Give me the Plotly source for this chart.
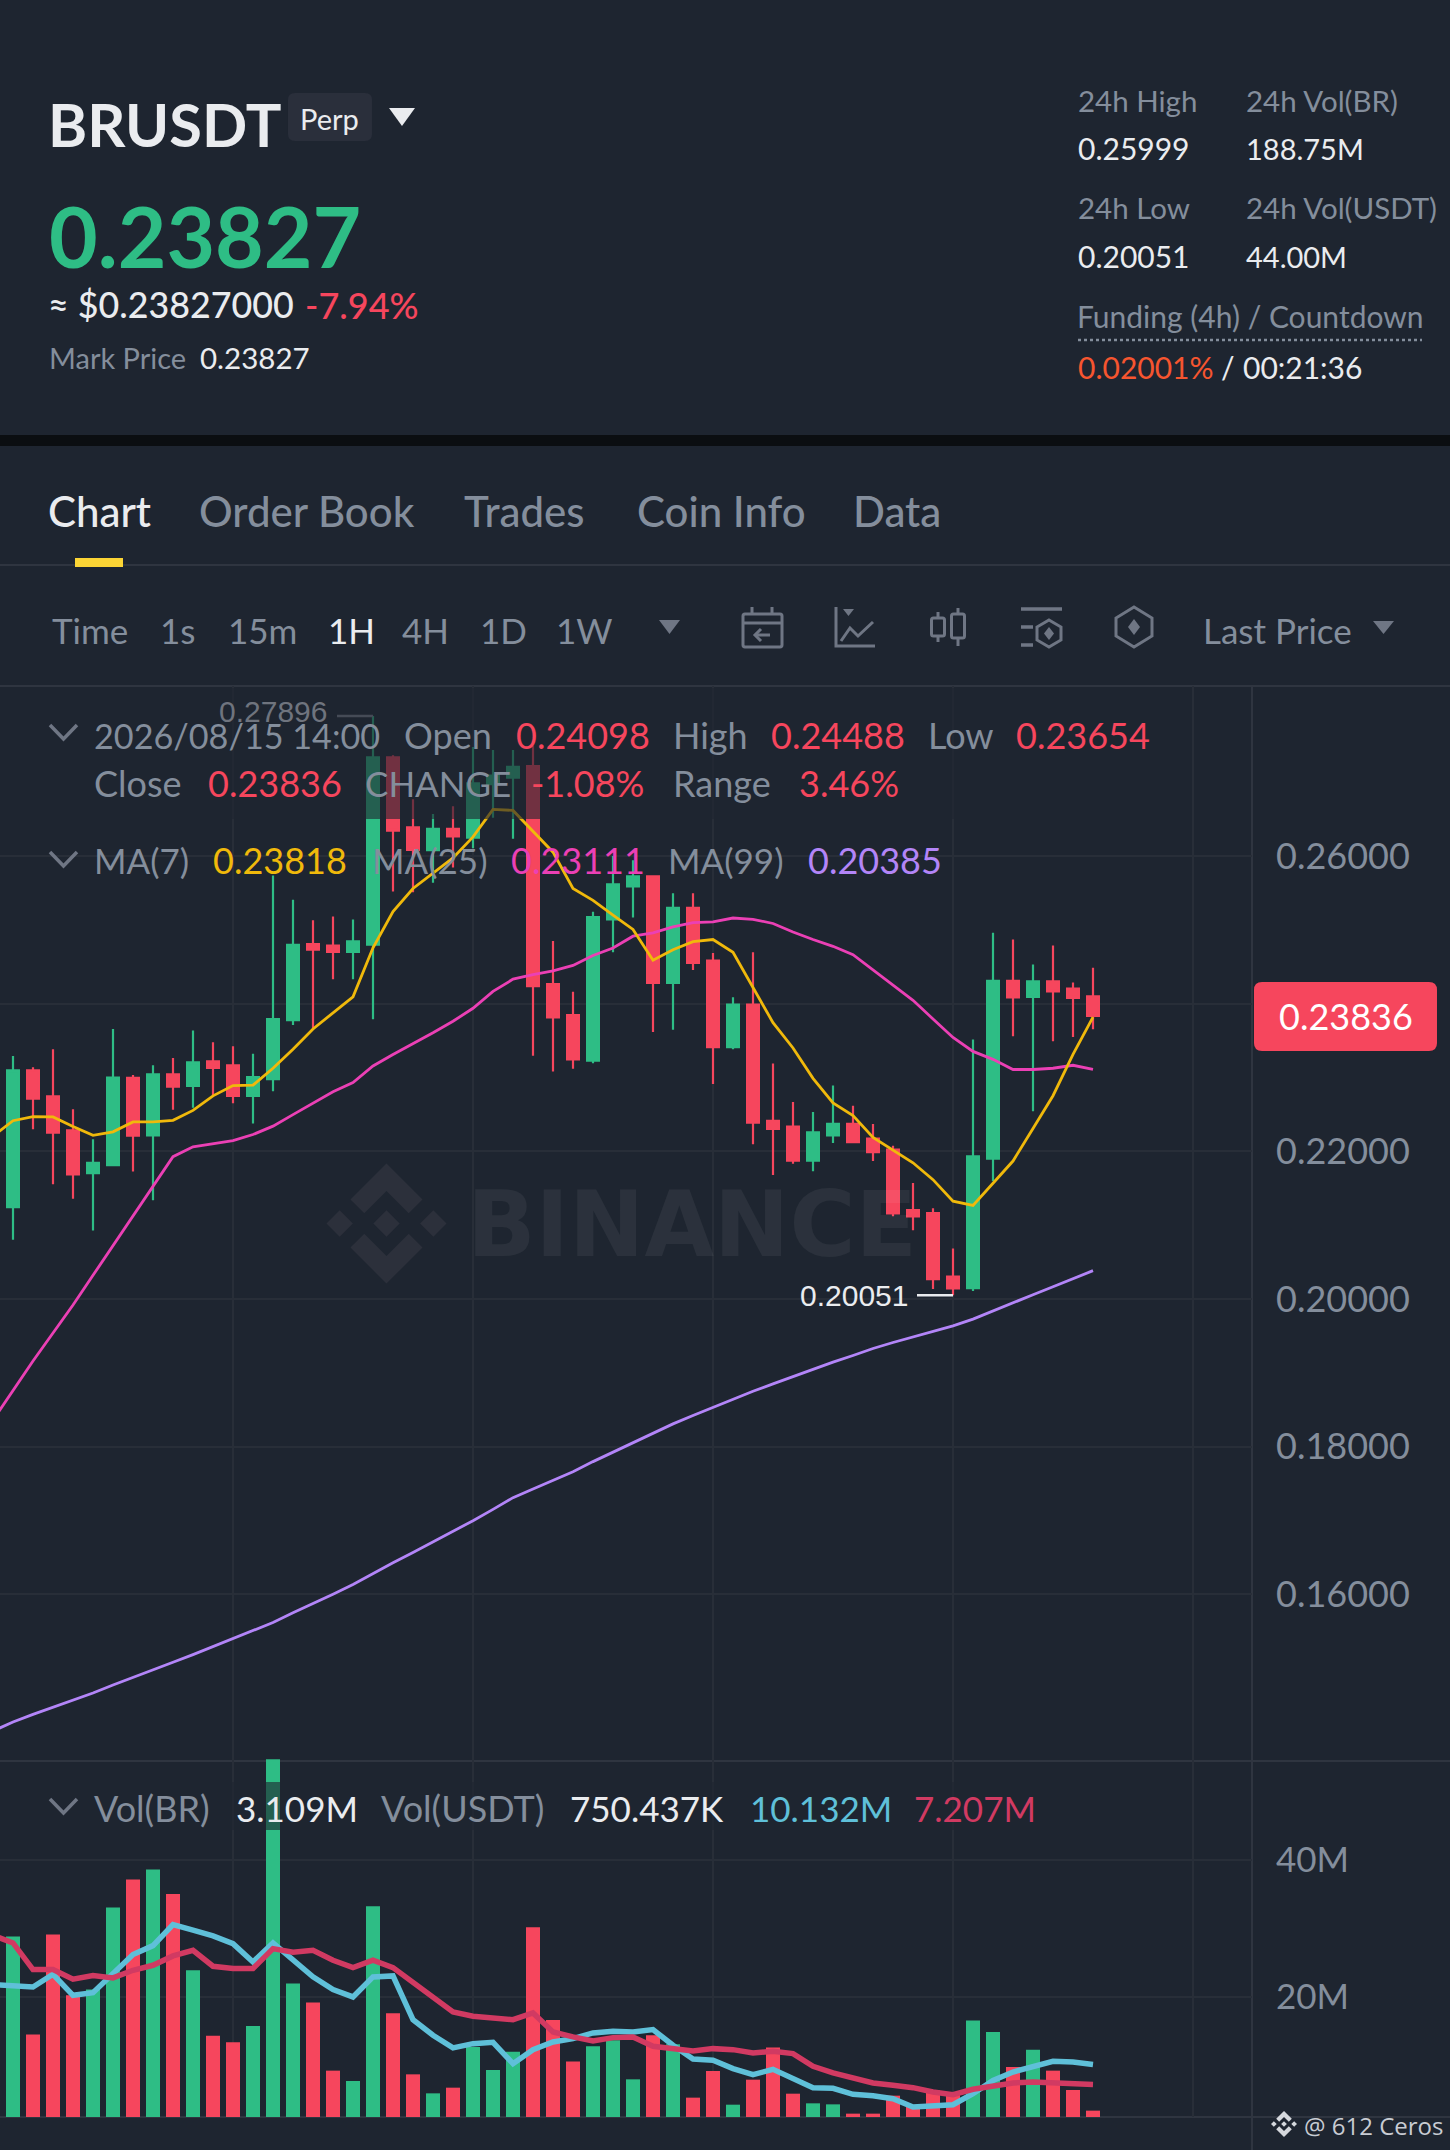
import plotly.graph_objects as go

# ---- data ----
open_ = [.21244,.23099,.22746,.22285,.21705,.21814,.22995,.22218,.23042,.22886,.23218,.23166,.22752,.22979,.23777,
         .24808,.24788,.24700,.24798,.27337,.26389,.26078,.26368,.26249,.26974,.27062,.27218,.24264,.23845,.23228,
         .25143,.25589,.25726,.24280,.25297,.24583,.23412,.23989,.22412,.22337,.21875,.22217,.22372,.22172,.22023,
         .21206,.21166,.20303,.20149,.21903,.24309,.24092,.24303,.24206,.24098]
high = [.23290,.23140,.23384,.22570,.22166,.23658,.23036,.23166,.23264,.23637,.23477,.23425,.23321,.25736,.25409,
        .25130,.25181,.25140,.27896,.27363,.26767,.26570,.26674,.27477,.27435,.27435,.27492,.24850,.24161,.25244,
        .26000,.25943,.25726,.25497,.25497,.24686,.24086,.24697,.23189,.22669,.22532,.22892,.22617,.22372,.22075,
        .21572,.21229,.20686,.23514,.24960,.24869,.24531,.24789,.24286,.24488]
low = [.20803,.22301,.21555,.21358,.20928,.21814,.21726,.21337,.22565,.22591,.22762,.22653,.22378,.22814,.23710,
       .23643,.24332,.24332,.23788,.25518,.25508,.25637,.25845,.26104,.26518,.26233,.23296,.23083,.23119,.23192,
       .24697,.25166,.23617,.23646,.24457,.22914,.23383,.22097,.21680,.21834,.21732,.22114,.22114,.21869,.21120,
       .20932,.20137,.20051,.20109,.21600,.23560,.22543,.23492,.23549,.23654]
close = [.23099,.22715,.22254,.21689,.21845,.23000,.22213,.23042,.22876,.23207,.23130,.22752,.23005,.23793,.24798,
         .24731,.24700,.24845,.27337,.26342,.26083,.26368,.26264,.26984,.27088,.27207,.24238,.23814,.23244,.25171,
         .25617,.25726,.24280,.25297,.24554,.23412,.23989,.22389,.22303,.21875,.22257,.22372,.22126,.21989,.21160,
         .21120,.20269,.20143,.21932,.24309,.24086,.24303,.24166,.24080,.23836]
ma7 = [.22207,.22415,.22472,.22467,.22337,.22218,.22265,.22399,.22399,.22420,.22555,.22752,.22891,.22897,.23125,.23384,
       .23658,.23876,.24093,.24757,.25249,.25560,.25767,.25974,.26259,.26632,.26617,.26337,.26052,.25560,.25400,
       .25200,.25006,.24589,.24731,.24840,.24869,.24697,.24229,.23743,.23400,.22989,.22657,.22486,.22189,.22017,
       .21846,.21617,.21326,.21269,.21566,.21869,.22309,.22754,.23314,.23818]
ma25 = [.18363,.18769,.19162,.19541,.19920,.20322,.20726,.21130,.21518,.21928,.22062,.22099,.22145,.22228,.22342,.22498,
        .22658,.22808,.22933,.23156,.23311,.23456,.23606,.23762,.23938,.24166,.24332,.24394,.24446,.24518,.24653,
        .24754,.24914,.24960,.25040,.25097,.25109,.25160,.25143,.25086,.24971,.24869,.24777,.24663,.24457,.24240,
        .24046,.23794,.23543,.23354,.23246,.23109,.23109,.23126,.23166,.23111]
ma99 = [.14151,.14273,.14377,.14472,.14571,.14666,.14775,.14874,.14983,.15082,.15186,.15295,.15403,.15507,.15620,.15751,
        .15873,.16004,.16135,.16285,.16429,.16569,.16709,.16854,.16999,.17152,.17311,.17428,.17550,.17663,.17799,
        .17925,.18061,.18183,.18310,.18423,.18536,.18649,.18752,.18852,.18951,.19051,.19146,.19236,.19331,.19412,
        .19489,.19562,.19638,.19729,.19842,.19946,.20059,.20167,.20276,.20385]
volume = [28.83,14.49,29.12,20.24,21.07,33.07,37.17,38.63,35.07,23.90,14.34,13.37,15.76,54.78,21.95,19.17,9.22,7.71,
          33.27,17.61,8.68,5.90,6.73,12.68,9.32,12.00,30.20,16.63,10.54,12.78,13.66,7.95,14.39,13.07,5.27,9.17,4.24,
          7.90,12.59,5.85,4.44,4.29,2.93,2.93,5.56,3.90,6.34,5.95,16.54,14.88,9.76,12.29,9.22,6.39,3.37]
vol_ma_fast = [21.80,21.66,21.46,23.32,20.24,20.63,23.32,26.20,27.51,30.59,29.76,28.93,27.80,25.12,27.90,25.37,22.93,
               21.07,20.00,22.93,23.07,16.68,14.39,12.54,13.17,13.37,10.24,12.29,13.41,13.90,14.73,14.98,14.88,15.22,
               12.93,10.93,10.73,9.51,8.63,9.41,8.05,6.73,6.63,5.76,5.56,5.12,3.90,4.00,4.24,5.85,7.80,9.02,9.85,
               10.59,10.49,10.13]
vol_ma_slow = [29.02,27.90,24.00,24.00,22.59,23.12,22.78,23.90,24.63,26.00,26.83,24.49,24.15,24.15,27.07,26.54,26.83,
               25.37,24.29,25.37,24.29,22.20,19.90,17.80,17.17,16.83,16.68,17.66,14.88,14.15,13.56,14.05,14.15,12.78,
               12.34,12.10,12.44,12.29,11.80,12.05,11.71,9.85,8.88,8.20,7.41,7.07,6.73,6.10,5.71,6.49,6.93,7.41,7.56,
               7.41,7.32,7.21]
price_ticks = [0.16, 0.18, 0.20, 0.22, 0.24, 0.26]
volume_ticks = [20, 40]
volume_tick_labels = ["20M", "40M"]
time_ticks = [11, 23, 35, 47, 59]

candle_idx = list(range(len(close)))
ma_idx = list(range(-1, len(close)))

W, H = 1450, 2150
BG = "#1E2530"
GRID = "#282E38"
SEP = "#2F3540"
GREEN = "#2EBD85"
RED = "#F6465D"
MUTED = "#848E9C"
ICON = "#6F7684"
LIGHT = "#EAECEF"
FONT = "Lato"


def px(x):
    return x / W


def py(y):
    return 1 - y / H


def pth(points, close_it=False):
    s = "M" + " L".join(f"{px(a):.5f},{py(b):.5f}" for a, b in points)
    return s + (" Z" if close_it else "")


shapes = []
ann = []


def rect(x0, y0, x1, y1, fill, layer="below"):
    shapes.append(dict(type="rect", xref="paper", yref="paper", x0=px(x0), x1=px(x1), y0=py(y0), y1=py(y1),
                       fillcolor=fill, line_width=0, layer=layer))


def hline(x0, x1, y, color=SEP, w=2, dash=None, layer="below"):
    shapes.append(dict(type="line", xref="paper", yref="paper", x0=px(x0), x1=px(x1), y0=py(y), y1=py(y),
                       line=dict(color=color, width=w, dash=dash), layer=layer))


def vline(x, y0, y1, color=SEP, w=2):
    shapes.append(dict(type="line", xref="paper", yref="paper", x0=px(x), x1=px(x), y0=py(y0), y1=py(y1),
                       line=dict(color=color, width=w), layer="below"))


def poly(points, fill=None, stroke=None, w=0, closed=True, layer="above"):
    shapes.append(dict(type="path", xref="paper", yref="paper", path=pth(points, closed),
                       fillcolor=fill if fill else "rgba(0,0,0,0)",
                       line=dict(color=stroke if stroke else "rgba(0,0,0,0)", width=w), layer=layer))


def rounded(x0, y0, x1, y1, r, fill=None, stroke=None, w=0):
    k = [(x0 + r, y0), (x1 - r, y0), (x1, y0 + r), (x1, y1 - r), (x1 - r, y1), (x0 + r, y1), (x0, y1 - r), (x0, y0 + r)]
    a = [f"{px(p):.5f},{py(q):.5f}" for p, q in k]
    c = [f"{px(p):.5f},{py(q):.5f}" for p, q in [(x1, y0), (x1, y1), (x0, y1), (x0, y0)]]
    d = (f"M{a[0]} L{a[1]} Q{c[0]} {a[2]} L{a[3]} Q{c[1]} {a[4]} L{a[5]} Q{c[2]} {a[6]} L{a[7]} Q{c[3]} {a[0]} Z")
    shapes.append(dict(type="path", xref="paper", yref="paper", path=d, fillcolor=fill if fill else "rgba(0,0,0,0)",
                       line=dict(color=stroke if stroke else "rgba(0,0,0,0)", width=w), layer="above"))


def T(text, x, y, size, color=MUTED, weight=400, anchor="left", family=FONT):
    ann.append(dict(text=text, x=px(x - (1.5 if anchor == "left" else 0)), y=py(y), xref="paper", yref="paper",
                    xanchor=anchor, yanchor="middle", showarrow=False, borderpad=0,
                    font=dict(family=family, size=size, color=color, weight=weight)))


def logo(cx, cy, R, color, layer):
    poly([(cx, cy - R), (cx + .6 * R, cy - .4 * R), (cx + .37 * R, cy - .17 * R), (cx, cy - .54 * R),
          (cx - .37 * R, cy - .17 * R), (cx - .6 * R, cy - .4 * R)], fill=color, layer=layer)
    poly([(cx, cy + R), (cx + .6 * R, cy + .4 * R), (cx + .37 * R, cy + .17 * R), (cx, cy + .54 * R),
          (cx - .37 * R, cy + .17 * R), (cx - .6 * R, cy + .4 * R)], fill=color, layer=layer)
    for dx, h in ((0, .22), (-.78, .22), (.78, .22)):
        poly([(cx + dx * R, cy - h * R), (cx + (dx + h) * R, cy), (cx + dx * R, cy + h * R), (cx + (dx - h) * R, cy)],
             fill=color, layer=layer)


# ---- page furniture ----
rect(0, 435, W, 446, "#0B0E11")
hline(0, W, 565)
hline(0, W, 686)
rect(75, 558, 123, 567, "#FCD535", layer="above")
hline(0, W, 1761)
hline(0, W, 2117)
vline(1252, 686, 2150)

# header
T("BRUSDT", 48, 124, 59.5, LIGHT, 700)
rounded(288, 93, 372, 141, 7, fill="#2A2F3B")
T("Perp", 300, 119, 29, LIGHT)
poly([(389, 108), (415, 108), (402, 126)], fill=LIGHT)
T("0.23827", 49, 235, 84, GREEN, 700)
T("≈ $0.23827000", 48, 305, 35.8, LIGHT, 500)
T("-7.94%", 305, 305, 36, RED, 500)
T("Mark Price", 49, 358, 29)
T("0.23827", 200, 358, 29.5, LIGHT)
for txt, x, y, col, size in [("24h High", 1078, 101, MUTED, 29.5), ("24h Vol(BR)", 1246, 101, MUTED, 29.5),
                             ("0.25999", 1078, 148, LIGHT, 30), ("188.75M", 1246.5, 148, LIGHT, 29),
                             ("24h Low", 1078, 208, MUTED, 29.5), ("24h Vol(USDT)", 1246, 208, MUTED, 29.5),
                             ("0.20051", 1078, 256, LIGHT, 30), ("44.00M", 1246, 256, LIGHT, 29),
                             ("Funding (4h) / Countdown", 1077.5, 316, MUTED, 30),
                             ("0.02001%", 1078, 367, "#F6552F", 30), ("/", 1221, 367, LIGHT, 30),
                             ("00:21:36", 1243, 367, LIGHT, 30)]:
    T(txt, x, y, size, col)
hline(1078, 1422, 340, MUTED, 2.5, "dot", "above")

# tabs
for txt, x, col in [("Chart", 48, LIGHT), ("Order Book", 199, MUTED), ("Trades", 464, MUTED),
                    ("Coin Info", 637, MUTED), ("Data", 853, MUTED)]:
    T(txt, x, 511, 42, col, 500)

# toolbar
for txt, x, col in [("Time", 52, MUTED), ("1s", 160, MUTED), ("15m", 228, MUTED), ("1H", 328, LIGHT),
                    ("4H", 403, MUTED), ("1D", 480, MUTED), ("1W", 556, MUTED), ("Last Price", 1203, MUTED)]:
    T(txt, x, 630, 35, col)
poly([(659, 620), (680, 620), (669.5, 634)], fill=ICON)
poly([(1373, 621), (1394, 621), (1383.5, 634)], fill=ICON)
# calendar icon
rounded(743, 614, 782, 647, 2, stroke=ICON, w=3)
hline(743, 782, 623, ICON, 3, layer="above")
vline(752, 607, 614, ICON, 3)
vline(772, 607, 614, ICON, 3)
poly([(770, 635), (755, 635)], stroke=ICON, w=3, closed=False)
poly([(761, 629), (755, 635), (761, 641)], stroke=ICON, w=3, closed=False)
# line-chart icon
poly([(836, 607), (836, 646), (875, 646)], stroke=ICON, w=3, closed=False)
poly([(841, 641), (850, 628), (858, 636), (873, 622)], stroke=ICON, w=3, closed=False)
poly([(843, 609), (854, 609), (848.5, 616)], fill=ICON)
# candle icon
for cx, t, b, wt, wb in [(938, 618, 636, 612, 642), (958, 614, 638, 608, 646)]:
    rounded(cx - 6.5, t, cx + 6.5, b, 2, stroke=ICON, w=3)
    poly([(cx, wt), (cx, t)], stroke=ICON, w=3, closed=False)
    poly([(cx, b), (cx, wb)], stroke=ICON, w=3, closed=False)
# settings icon
hline(1021, 1062, 609, ICON, 3.5, layer="above")
hline(1021, 1033, 627, ICON, 3.5, layer="above")
hline(1021, 1033, 645, ICON, 3.5, layer="above")
poly([(1049, 620), (1061, 627), (1061, 640), (1049, 647), (1037, 640), (1037, 627)], stroke=ICON, w=3)
poly([(1049, 627), (1054, 633.5), (1049, 640), (1044, 633.5)], fill=ICON)
# hex icon
poly([(1134, 607), (1152, 618), (1152, 636), (1134, 647), (1116, 636), (1116, 618)], stroke=ICON, w=3)
poly([(1134, 619), (1140, 627), (1134, 635), (1128, 627)], fill=ICON)

# watermark
logo(386.5, 1223.5, 60, "#2C303B", "below")
T("BINANCE", 467, 1224, 90, "rgba(255,255,255,0.06)", 700, family="DejaVu Sans")

# legend shading above candles
rect(0, 688, 1160, 819, "rgba(30,37,48,0.62)", layer="above")
rect(0, 1782, 1045, 1830, "rgba(30,37,48,0.62)", layer="above")

# chart legends
for cy in (732, 859, 1806):
    poly([(50, cy - 7), (63.5, cy + 7), (77, cy - 7)], stroke=ICON, w=3.5, closed=False)
row1 = [("2026/08/15 14:00", 94, MUTED, 34.2), ("Open", 404, MUTED, 36), ("0.24098", 516, RED, 36),
        ("High", 673, MUTED, 36), ("0.24488", 771, RED, 36), ("Low", 928, MUTED, 36), ("0.23654", 1016, RED, 36)]
row2 = [("Close", 94, MUTED, 36), ("0.23836", 208, RED, 36), ("CHANGE", 365, MUTED, 35), ("-1.08%", 531, RED, 36),
        ("Range", 673, MUTED, 36), ("3.46%", 799, RED, 36)]
row3 = [("MA(7)", 94, MUTED, 35), ("0.23818", 213, "#F0B90B", 36), ("MA(25)", 372, MUTED, 35),
        ("0.23111", 511, "#EB40B5", 36), ("MA(99)", 668, MUTED, 35), ("0.20385", 808, "#B385F8", 36)]
row4 = [("Vol(BR)", 94, MUTED, 36), ("3.109M", 236, LIGHT, 35), ("Vol(USDT)", 381, MUTED, 36),
        ("750.437K", 570, LIGHT, 35), ("10.132M", 750, "#5FC0D9", 35), ("7.207M", 914, "#D13A62", 35)]
for row, y in ((row1, 735), (row2, 783), (row3, 860), (row4, 1808)):
    for txt, x, col, size in row:
        T(txt, x, y, size, col)

# last price badge
rounded(1254, 982, 1437, 1051, 8, fill=RED)
T("0.23836", 1345.5, 1016, 36, "#FFFFFF", anchor="center")

# footer
logo(1284, 2124, 13, "#D5D8DD", "above")
T("@ 612 Ceros", 1304, 2125, 24, "#C8CCD3", family="Open Sans")

# high/low tags anchored to the data
hi_i = high.index(max(high))
lo_i = low.index(min(low))
ann.append(dict(text=f"{max(high):.5f}", x=hi_i, y=max(high), xref="x", yref="y", xanchor="right", yanchor="middle",
                xshift=-44, yshift=4, showarrow=False, font=dict(family="Liberation Sans", size=30, color="#6F747E")))
ann.append(dict(text=f"{min(low):.5f}", x=lo_i, y=min(low), xref="x", yref="y", xanchor="right", yanchor="middle",
                xshift=-43, yshift=0, showarrow=False, font=dict(family="Liberation Sans", size=30, color=LIGHT)))

fig = go.Figure()
fig.add_trace(go.Bar(x=candle_idx, y=volume, xaxis="x2", yaxis="y2", width=0.7, marker_line_width=0,
                     marker_color=[GREEN if c >= o else RED for o, c in zip(open_, close)],
                     hoverinfo="skip", showlegend=False))
fig.add_trace(go.Candlestick(x=candle_idx, open=open_, high=high, low=low, close=close,
                             xaxis="x", yaxis="y", whiskerwidth=0,
                             increasing=dict(line=dict(color=GREEN, width=2.2), fillcolor=GREEN),
                             decreasing=dict(line=dict(color=RED, width=2.2), fillcolor=RED),
                             hoverinfo="skip", showlegend=False))
for ys, col in ((ma99, "#B385F8"), (ma25, "#EB40B5"), (ma7, "#F0B90B")):
    fig.add_trace(go.Scatter(x=ma_idx, y=ys, mode="lines", line=dict(color=col, width=2.8), xaxis="x", yaxis="y",
                             hoverinfo="skip", showlegend=False))
for ys, col in ((vol_ma_fast, "#5FC0D9"), (vol_ma_slow, "#D13A62")):
    fig.add_trace(go.Scatter(x=ma_idx, y=ys, mode="lines", line=dict(color=col, width=5.5), xaxis="x2", yaxis="y2",
                             hoverinfo="skip", showlegend=False))
for i, v, col in ((hi_i, max(high), "#858A94"), (lo_i, min(low), LIGHT)):
    fig.add_trace(go.Scatter(x=[i - 1.8, i], y=[v, v], mode="lines", line=dict(color=col, width=2.5), xaxis="x",
                             yaxis="y", hoverinfo="skip", showlegend=False))

x_common = dict(range=[-0.65, 61.95], domain=[0, 1252 / W], type="linear", showticklabels=False, ticks="",
                tickvals=time_ticks, showgrid=True, gridcolor=GRID, gridwidth=2, zeroline=False, showline=False,
                rangeslider=dict(visible=False))
fig.update_layout(
    width=W, height=H, margin=dict(l=0, r=0, t=0, b=0), autosize=False,
    paper_bgcolor=BG, plot_bgcolor="rgba(0,0,0,0)", showlegend=False, boxgap=0.41, boxgroupgap=0, bargap=0.3,
    font=dict(family=FONT, color=MUTED),
    xaxis=dict(anchor="y", **x_common),
    xaxis2=dict(anchor="y2", matches="x", **x_common),
    yaxis=dict(domain=[py(1761), py(686)], range=[0.13745, 0.28302], side="right", anchor="x",
               tickvals=price_ticks,
               # the 0.24000 label sits behind the last-price badge in the reference
               ticktext=["" if abs(t - close[-1]) < 0.005 else f"{t:.5f}" for t in price_ticks], ticks="",
               ticklabelstandoff=23, tickfont=dict(family=FONT, size=36, color=MUTED),
               showgrid=True, gridcolor=GRID, gridwidth=2, zeroline=False, showline=False),
    yaxis2=dict(domain=[py(2117), py(1759)], range=[2.44, 54.8], side="right", anchor="x2",
                tickvals=volume_ticks, ticktext=volume_tick_labels, ticks="",
                ticklabelstandoff=23, tickfont=dict(family=FONT, size=35, color=MUTED),
                showgrid=True, gridcolor=GRID, gridwidth=2, zeroline=False, showline=False),
    shapes=shapes, annotations=ann,
)
fig.write_html("out.html", config=dict(displayModeBar=False),
               post_script="document.body.style.margin='0';document.body.style.overflow='hidden';"
                           f"document.body.style.background='{BG}';")
